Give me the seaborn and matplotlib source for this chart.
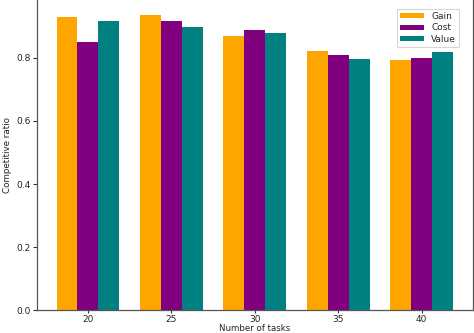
import matplotlib
matplotlib.use("Agg")
import matplotlib.pyplot as plt
import seaborn as sns
import pandas as pd

tasks = ["20", "25", "30", "35", "40"]
gain = [0.930, 0.934, 0.870, 0.820, 0.794]
cost = [0.849, 0.918, 0.889, 0.810, 0.798]
value = [0.918, 0.899, 0.879, 0.797, 0.817]
series_names = ["Gain", "Cost", "Value"]
colors = ["#FFA500", "#800080", "#008080"]

rows = []
for name, vals in zip(series_names, [gain, cost, value]):
    for t, v in zip(tasks, vals):
        rows.append({"tasks": t, "ratio": v, "metric": name})
df = pd.DataFrame(rows)

sns.set_style("ticks")
plt.rcParams["font.family"] = ["DejaVu Sans"]

fig = plt.figure(figsize=(4.74, 3.33), dpi=100)
ax = fig.add_axes([0.078, 0.0676, 0.919, 0.9324])
sns.barplot(data=df, x="tasks", y="ratio", hue="metric", order=tasks,
            hue_order=series_names, palette=colors, width=0.75,
            saturation=1, ax=ax, errorbar=None, linewidth=0)

ax.set_xlim(-0.61, 4.61)
ax.set_ylim(0, 0.983)
ax.set_yticks([0.0, 0.2, 0.4, 0.6, 0.8])
ax.set_yticklabels(["0.0", "0.2", "0.4", "0.6", "0.8"])
ax.tick_params(axis="both", labelsize=6.5, length=3, width=0.8, colors="#333333",
               labelcolor="#222222", pad=1.5)
ax.tick_params(axis="x", length=2.5, pad=1)
ax.set_xlabel("Number of tasks", fontsize=6.2, labelpad=-0.5, color="#222222")
ax.set_ylabel("Competitive ratio", fontsize=6.3, labelpad=3, color="#222222")
for s in ["left", "bottom", "right"]:
    ax.spines[s].set_visible(True)
    ax.spines[s].set_color("#555555")
    ax.spines[s].set_linewidth(0.9)
ax.spines["top"].set_visible(False)

leg = ax.legend(loc="upper right", fontsize=6.5, frameon=True, handlelength=2.7,
                handleheight=0.45, labelspacing=0.3, borderpad=0.35,
                handletextpad=0.8, bbox_to_anchor=(0.98, 0.987), title=None)
leg.get_frame().set_edgecolor("#cccccc")
leg.get_frame().set_linewidth(0.8)

fig.savefig("out.png", dpi=100)
